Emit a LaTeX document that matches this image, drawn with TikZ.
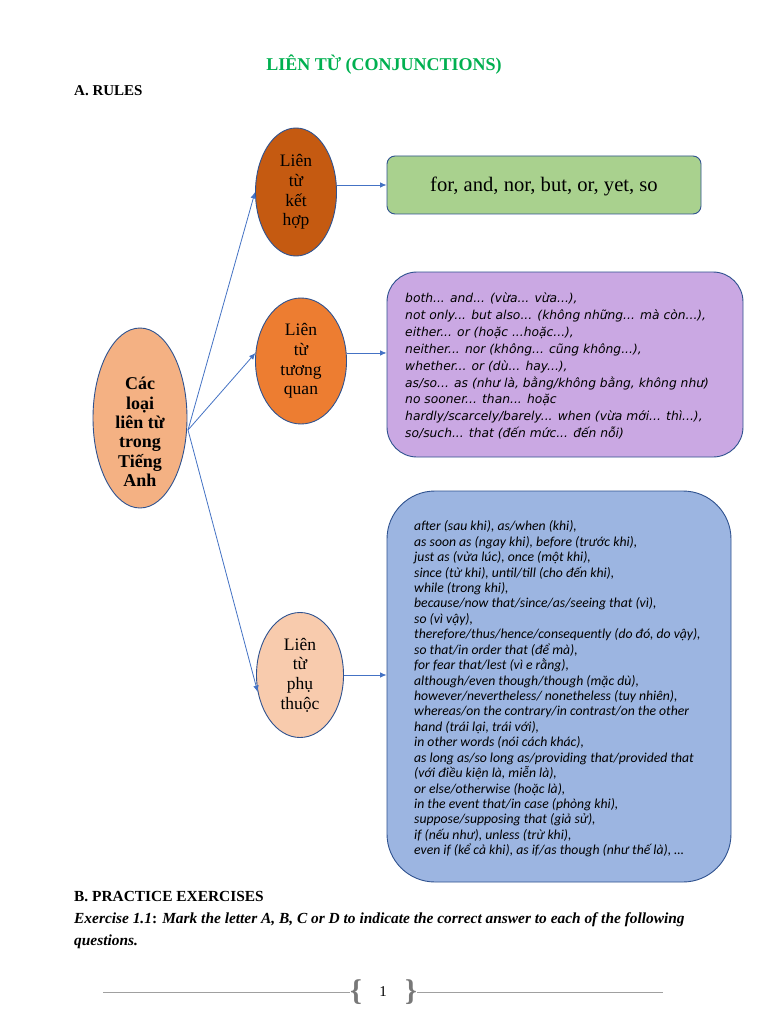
\documentclass[tikz,border=0pt]{standalone}
\usepackage{fontspec}
\setmainfont{Liberation Serif}
\newfontfamily\purplefont[ItalicFont={DejaVu Sans Oblique}]{DejaVu Sans}
\newfontfamily\bluefont{Carlito}
\usetikzlibrary{arrows.meta,shapes.geometric}
\definecolor{edgeblue}{RGB}{47,82,143}
\definecolor{arrblue}{RGB}{68,114,196}
\definecolor{cfill}{RGB}{244,177,131}
\definecolor{kafill}{RGB}{197,90,17}
\definecolor{kbfill}{RGB}{237,125,49}
\definecolor{kcfill}{RGB}{248,203,173}
\definecolor{gfill}{RGB}{169,209,142}
\definecolor{pfill}{RGB}{202,168,227}
\definecolor{bfill}{RGB}{156,181,225}
\definecolor{titlegreen}{RGB}{0,176,80}
\definecolor{footgrey}{RGB}{160,160,160}
\tikzset{
  oval/.style={ellipse, draw=edgeblue, line width=0.9pt, inner sep=0pt, align=center,
    font=\fontsize{17.5}{19.6}\selectfont},
  rbox/.style={draw=edgeblue, line width=0.9pt, inner sep=0pt},
  arr/.style={draw=arrblue, line width=0.8pt, -{Latex[length=6.5pt,width=5.5pt]}},
  foot/.style={draw=footgrey, line width=1pt},
  brace/.style={font=\fontsize{30}{30}\selectfont\bfseries, text=footgrey!75!black, inner sep=0pt},
}
\begin{document}
\begin{tikzpicture}[x=1pt,y=-1pt]
\useasboundingbox (0,0) rectangle (768,1024);
\fill[white] (0,0) rectangle (768,1024);
% headings
\node[font=\fontsize{18}{21}\selectfont\bfseries, text=titlegreen] (title) at (384,65) {LIÊN TỪ (CONJUNCTIONS)};
\node[font=\fontsize{15}{18}\selectfont\bfseries, anchor=west, inner sep=0pt] (rules) at (74,91) {A. RULES};
% ellipses
\node[oval, fill=cfill, minimum width=94, minimum height=180] (c) at (140,418) {};
\node[font=\fontsize{18}{19.4}\selectfont\bfseries, align=center, inner sep=0pt] (ct) at (140,432) {Các\\loại\\liên từ\\trong\\Tiếng\\Anh};
\node[oval, fill=kafill, minimum width=81, minimum height=128] (k1) at (296,192) {Liên\\từ\\kết\\hợp};
\node[oval, fill=kbfill, minimum width=91, minimum height=126] (k2) at (301,361) {Liên\\từ\\tương\\quan};
\node[oval, fill=kcfill, minimum width=87, minimum height=125] (k3) at (300,675) {Liên\\từ\\phụ\\thuộc};
% boxes
\node[rbox, fill=gfill, rounded corners=8, minimum width=314, minimum height=58] (b1) at (544,185) {};
\node[font=\fontsize{20.6}{24}\selectfont, inner sep=0pt] (b1t) at (544,186) {for, and, nor, but, or, yet, so};
\node[rbox, fill=pfill, rounded corners=30, minimum width=356, minimum height=185] (b2) at (565,364.5) {};
\node[font=\purplefont\itshape\fontsize{12.3}{16.9}\selectfont, align=left, anchor=north west, inner sep=0pt] (b2t) at (405,292.5) {both... and... (vừa... vừa...),\\
not only... but also... (không những... mà còn...),\\
either... or (hoặc ...hoặc...),\\
neither... nor (không... cũng không...),\\
whether... or (dù... hay...),\\
as/so... as (như là, bằng/không bằng, không như)\\
no sooner... than... hoặc\\
hardly/scarcely/barely... when (vừa mới... thì...),\\
so/such... that (đến mức... đến nỗi)};
\node[rbox, fill=bfill, rounded corners=48, minimum width=344, minimum height=391] (b3) at (559,686.5) {};
\node[font=\bluefont\itshape\fontsize{13.7}{15.43}\selectfont, align=left, anchor=north west, inner sep=0pt] (b3t) at (414,520.5) {after (sau khi), as/when (khi),\\
as soon as (ngay khi), before (trước khi),\\
just as (vừa lúc), once (một khi),\\
since (từ khi), until/till (cho đến khi),\\
while (trong khi),\\
because/now that/since/as/seeing that (vì),\\
so (vì vậy),\\
therefore/thus/hence/consequently (do đó, do vậy),\\
so that/in order that (để mà),\\
for fear that/lest (vì e rằng),\\
although/even though/though (mặc dù),\\
however/nevertheless/ nonetheless (tuy nhiên),\\
whereas/on the contrary/in contrast/on the other\\
hand (trái lại, trái với),\\
in other words (nói cách khác),\\
as long as/so long as/providing that/provided that\\
(với điều kiện là, miễn là),\\
or else/otherwise (hoặc là),\\
in the event that/in case (phòng khi),\\
suppose/supposing that (giả sử),\\
if (nếu như), unless (trừ khi),\\
even if (kể cả khi), as if/as though (như thế là), …};
% connectors
\coordinate (o) at (188,430);
\draw[arr] (o) -- (k1.west);
\draw[arr] (o) -- (k2.170);
\draw[arr] (o) -- (k3.202);
\draw[arr] (k1.east |- b1.west) -- (b1.west);
\draw[arr] (k2.10) -- (k2.10 -| b2.west);
\draw[arr] (k3.east) -- (k3.east -| b3.west);
% exercises
\node[font=\fontsize{15.4}{18}\selectfont\bfseries, anchor=west, inner sep=0pt] (pe) at (74,896) {B. PRACTICE EXERCISES};
\node[font=\fontsize{15.4}{22}\selectfont\bfseries, align=left, anchor=north west, inner sep=0pt] (ex) at (74,912) {\textit{Exercise 1.1}: \textit{Mark the letter A, B, C or D to indicate the correct answer to each of the following}\\\textit{questions.}};
% footer
\node[brace] (lb) at (356,992) {\{};
\node[font=\fontsize{15}{18}\selectfont, inner sep=0pt] (pg) at (383,992) {1};
\node[brace] (rb) at (411,992) {\}};
\coordinate (fl) at (103,992);
\coordinate (fr) at (663,992);
\draw[foot] (fl) -- (lb.west);
\draw[foot] (rb.east) -- (fr);
\end{tikzpicture}
\end{document}
